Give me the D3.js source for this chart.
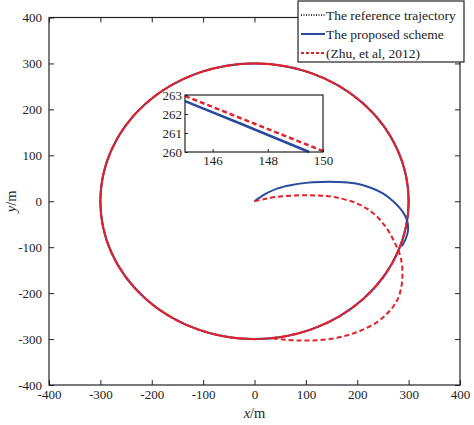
<!DOCTYPE html>
<html>
<head>
<meta charset="utf-8">
<script src="https://cdn.jsdelivr.net/npm/d3@7"></script>
<style>
  body { margin: 0; background: #fff; }
  text { font-family: "Liberation Serif", "DejaVu Serif", serif; }
</style>
</head>
<body>
<div id="chart"></div>
<script>
// axis ticks
const xTicks = [-400, -300, -200, -100, 0, 100, 200, 300, 400];
const yTicks = [-400, -300, -200, -100, 0, 100, 200, 300, 400];
const insetXTicks = [146, 148, 150];
const insetYTicks = [260, 261, 262, 263];

// reference trajectory: circle of radius 300 m around the origin
const refRadius = 300;

// transient part of the proposed scheme (x, y in m), then it follows the circle
const proposedPath = [
    [0, 0], [10, 8], [25, 18], [45, 28], [70, 35], [100, 40], [130, 42],
    [160, 42], [195, 39], [225, 30], [250, 17], [272, -2], [288, -22],
    [297, -42], [299, -62], [295, -80], [287, -98]
];

// transient part of (Zhu, et al, 2012)
const zhuPath = [
    [0, 0], [20, 5], [40, 9], [70, 12], [100, 13], [130, 12], [160, 8],
    [200, -5], [230, -25], [255, -55], [272, -88], [284, -120], [288, -155],
    [286, -185], [278, -215], [262, -240], [240, -262], [210, -280],
    [180, -292], [147, -300], [110, -303], [80, -303], [55, -301], [35, -298]
];

// zoomed window 145..150 m
const insetProposed = [[145, 262.68], [147, 261.5], [149.5, 260]];
const insetZhu = [[145, 262.95], [147.5, 261.5], [150, 260.05]];

const legendLabels = ["The reference trajectory", "The proposed scheme", "(Zhu, et al, 2012)"];

const blue = "#2a4b9b";
const red = "#e3222b";
const serif = "'Liberation Serif', 'DejaVu Serif', serif";

let svg = d3.select("#chart").append("svg")
    .attr("width", 474)
    .attr("height", 425);

let x = d3.scaleLinear().domain([-400, 400]).range([49, 460]);
let y = d3.scaleLinear().domain([-400, 400]).range([385, 17.5]);

// frame
svg.append("rect")
    .attr("x", x(-400)).attr("y", y(400))
    .attr("width", x(400) - x(-400)).attr("height", y(-400) - y(400))
    .attr("fill", "none").attr("stroke", "#222").attr("stroke-width", 1.2);

function styleAxis(g) {
    g.attr("font-family", serif);
    g.select(".domain").remove();
    g.selectAll(".tick line").attr("stroke", "#222");
    g.selectAll(".tick text")
        .attr("font-family", serif)
        .attr("font-size", 13)
        .attr("fill", "#222");
}

// axes, ticks pointing inwards like matlab
svg.append("g")
    .attr("transform", "translate(0," + y(-400) + ")")
    .call(d3.axisBottom(x).tickValues(xTicks).tickSizeInner(-5).tickSizeOuter(0)
        .tickPadding(5).tickFormat(d => String(d)))
    .call(styleAxis);
svg.append("g")
    .attr("transform", "translate(0," + y(400) + ")")
    .call(d3.axisTop(x).tickValues(xTicks).tickSizeInner(-5).tickSizeOuter(0).tickFormat(""))
    .call(styleAxis);
svg.append("g")
    .attr("transform", "translate(" + x(-400) + ",0)")
    .call(d3.axisLeft(y).tickValues(yTicks).tickSizeInner(-5).tickSizeOuter(0)
        .tickPadding(7).tickFormat(d => String(d)))
    .call(styleAxis);
svg.append("g")
    .attr("transform", "translate(" + x(400) + ",0)")
    .call(d3.axisRight(y).tickValues(yTicks).tickSizeInner(-5).tickSizeOuter(0).tickFormat(""))
    .call(styleAxis);

// axis titles
let xl = svg.append("text")
    .attr("x", (x(-400) + x(400)) / 2)
    .attr("y", 418)
    .attr("text-anchor", "middle")
    .attr("font-size", 14.5)
    .attr("fill", "#222");
xl.append("tspan").attr("font-style", "italic").text("x");
xl.append("tspan").text("/m");

let yl = svg.append("text")
    .attr("transform", "translate(16," + y(0) + ") rotate(-90)")
    .attr("text-anchor", "middle")
    .attr("font-size", 14.5)
    .attr("fill", "#222");
yl.append("tspan").attr("font-style", "italic").text("y");
yl.append("tspan").text("/m");

let line = d3.line()
    .x(function(d) { return x(d[0]); })
    .y(function(d) { return y(d[1]); })
    .curve(d3.curveCatmullRom);

// reference circle and the converged parts of both trajectories
function circle(stroke, width, dash) {
    svg.append("ellipse")
        .attr("cx", x(0)).attr("cy", y(0))
        .attr("rx", x(refRadius) - x(0))
        .attr("ry", y(0) - y(refRadius))
        .attr("fill", "none")
        .attr("stroke", stroke)
        .attr("stroke-width", width)
        .attr("stroke-dasharray", dash);
}
circle("#000", 1.5, "1,2");
circle(blue, 2, null);
circle(red, 2.2, "9,0.8");

svg.append("path")
    .datum(proposedPath)
    .attr("d", line)
    .attr("fill", "none")
    .attr("stroke", blue)
    .attr("stroke-width", 2);

svg.append("path")
    .datum(zhuPath)
    .attr("d", line)
    .attr("fill", "none")
    .attr("stroke", red)
    .attr("stroke-width", 2)
    .attr("stroke-dasharray", "5,3");

// inset
let ix = d3.scaleLinear().domain([145, 150]).range([185, 323]);
let iy = d3.scaleLinear().domain([260, 263]).range([152, 95]);

svg.append("rect")
    .attr("x", ix(145)).attr("y", iy(263))
    .attr("width", ix(150) - ix(145)).attr("height", iy(260) - iy(263))
    .attr("fill", "#fff");

let iline = d3.line()
    .x(function(d) { return ix(d[0]); })
    .y(function(d) { return iy(d[1]); });

svg.append("path")
    .datum(insetProposed)
    .attr("d", iline)
    .attr("fill", "none")
    .attr("stroke", blue)
    .attr("stroke-width", 2.5);

svg.append("path")
    .datum(insetZhu)
    .attr("d", iline)
    .attr("fill", "none")
    .attr("stroke", red)
    .attr("stroke-width", 2.5)
    .attr("stroke-dasharray", "5,3");

svg.append("g")
    .attr("transform", "translate(0," + iy(260) + ")")
    .call(d3.axisBottom(ix).tickValues(insetXTicks).tickSizeInner(-3).tickSizeOuter(0)
        .tickPadding(4).tickFormat(d => String(d)))
    .call(styleAxis);
svg.append("g")
    .attr("transform", "translate(" + ix(145) + ",0)")
    .call(d3.axisLeft(iy).tickValues(insetYTicks).tickSizeInner(-3).tickSizeOuter(0)
        .tickPadding(3).tickFormat(d => String(d)))
    .call(styleAxis);

svg.append("rect")
    .attr("x", ix(145)).attr("y", iy(263))
    .attr("width", ix(150) - ix(145)).attr("height", iy(260) - iy(263))
    .attr("fill", "none")
    .attr("stroke", "#222")
    .attr("stroke-width", 1.2);

// legend
let legend = svg.append("g").attr("transform", "translate(298,1)");
legend.append("rect")
    .attr("width", 166).attr("height", 61)
    .attr("fill", "#fff")
    .attr("stroke", "#222")
    .attr("stroke-width", 1.2);

let legendStyles = [
    { stroke: "#000", dash: "1,1.5", width: 1.5 },
    { stroke: blue, dash: null, width: 2 },
    { stroke: red, dash: "3,2", width: 2 }
];

legendLabels.forEach(function(label, i) {
    let cy = 14 + i * 19;
    legend.append("line")
        .attr("x1", 3).attr("x2", 27)
        .attr("y1", cy).attr("y2", cy)
        .attr("stroke", legendStyles[i].stroke)
        .attr("stroke-width", legendStyles[i].width)
        .attr("stroke-dasharray", legendStyles[i].dash);
    legend.append("text")
        .attr("x", 28)
        .attr("y", cy + 5)
        .attr("font-family", serif)
        .attr("font-size", 13.5)
        .attr("fill", "#222")
        .text(label);
});
</script>
</body>
</html>
